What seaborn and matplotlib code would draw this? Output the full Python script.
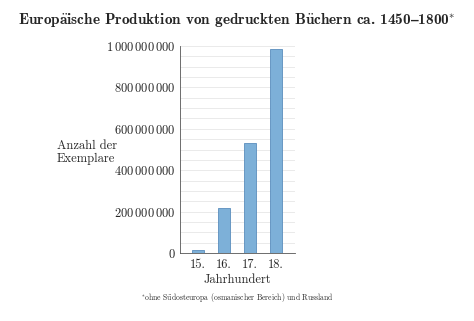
import matplotlib
matplotlib.use("Agg")
import matplotlib.pyplot as plt
import seaborn as sns
import pandas as pd
from matplotlib.ticker import MultipleLocator, FuncFormatter

# Data
jahrhundert = ["15.", "16.", "17.", "18."]
exemplare = [12_600_000, 217_400_000, 531_100_000, 983_600_000]

df = pd.DataFrame({"Jahrhundert": jahrhundert, "Exemplare": exemplare})

sns.set_style("white")
# Computer Modern look: cmr10 for plain text, umlauts through mathtext accents
plt.rcParams["font.family"] = ["cmr10", "DejaVu Serif"]
plt.rcParams["mathtext.fontset"] = "cm"
plt.rcParams["axes.unicode_minus"] = False

fig = plt.figure(figsize=(4.74, 3.21), dpi=100)
ax = fig.add_axes([180 / 474, 1 - 253 / 321, 115 / 474, 207 / 321])

sns.barplot(data=df, x="Jahrhundert", y="Exemplare", color="#7db0d8",
            edgecolor="#5a8dbd", linewidth=0.6, width=0.45, saturation=1, ax=ax)

ax.set_xlim(-0.7, 3.72)
ax.set_ylim(0, 1_000_000_000)
ax.yaxis.set_major_locator(MultipleLocator(200_000_000))
ax.yaxis.set_minor_locator(MultipleLocator(50_000_000))
ax.yaxis.set_major_formatter(
    FuncFormatter(lambda v, p: "$" + f"{int(v):,}".replace(",", r"\,") + "$"))
ax.grid(axis="y", which="both", color="#e6e6e6", linewidth=0.6)
ax.set_axisbelow(True)

for s in ["top", "right"]:
    ax.spines[s].set_visible(False)
for s in ["left", "bottom"]:
    ax.spines[s].set_color("#555555")
    ax.spines[s].set_linewidth(0.6)

ax.tick_params(axis="y", which="major", direction="in", length=3, width=0.5, color="#555555",
               labelsize=9, pad=3)
ax.tick_params(axis="y", which="minor", direction="in", length=2, width=0.5, color="#777777")
ax.tick_params(axis="x", direction="out", length=2, width=0.5, color="#777777",
               labelsize=9, pad=2)

ax.set_xlabel("Jahrhundert", fontsize=9, labelpad=2)
ax.set_ylabel("")

fig.text(57 / 474, 1 - 152 / 321, "Anzahl der\nExemplare", fontsize=9,
         ha="left", va="center", linespacing=1.1)

fig.text(0.5, 1 - 20 / 321,
         r"Europ$\ddot{\mathbf{a}}$ische Produktion von gedruckten B$\ddot{\mathbf{u}}$chern"
         r" ca. 1450$\mathbf{–}$1800$^{*}$",
         fontsize=11, ha="center", va="center", family="cmb10")

fig.text(0.5, 1 - 298 / 321,
         r"$^{*}$ohne S$\ddot{\mathrm{u}}$dosteuropa (osmanischer Bereich) und Russland",
         fontsize=5.5, ha="center", va="center")

fig.savefig("out.png", dpi=100, facecolor="white")
